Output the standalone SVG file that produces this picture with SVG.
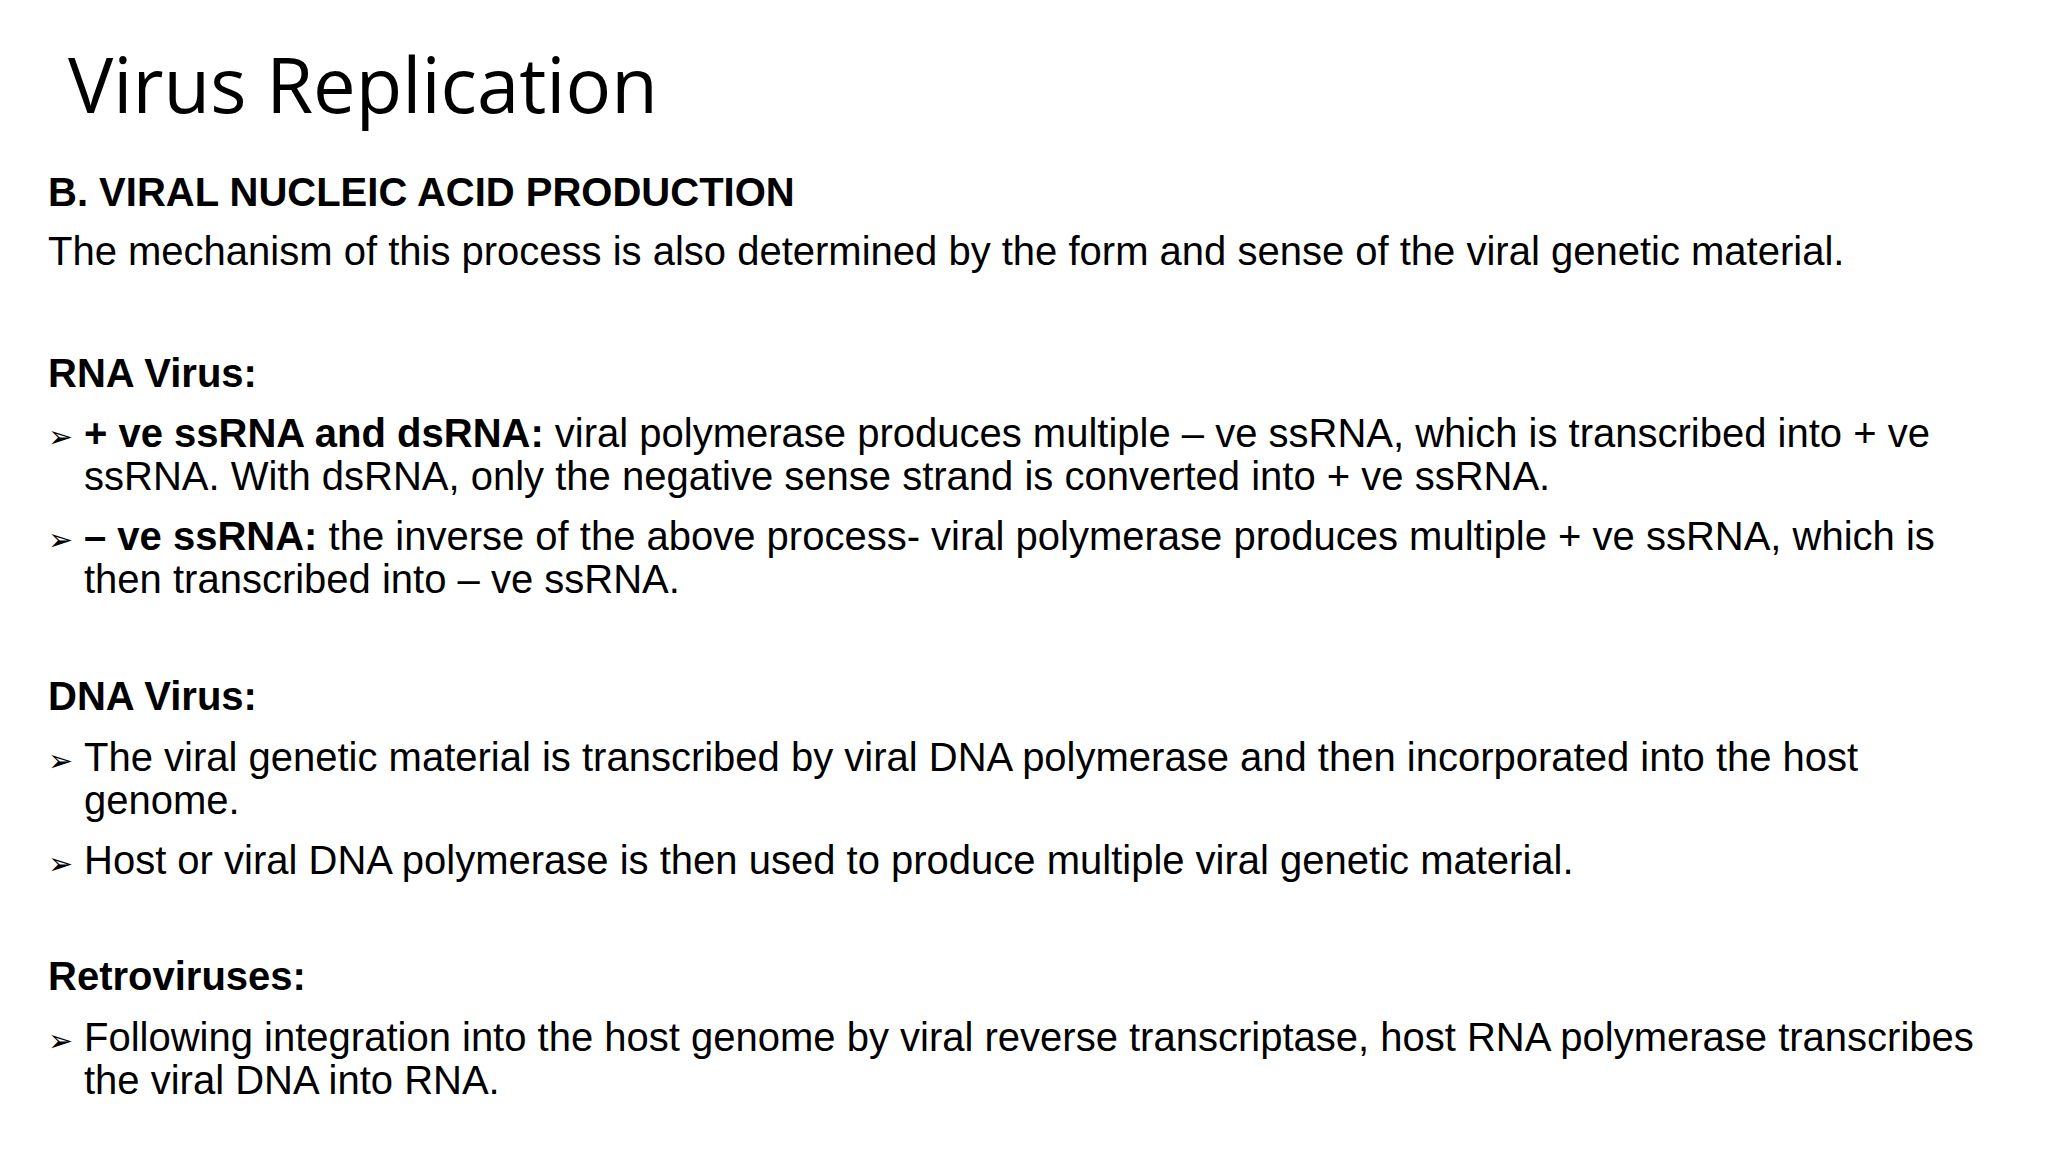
<svg xmlns="http://www.w3.org/2000/svg" width="2048" height="1152" viewBox="0 0 2048 1152">
<style>
.t{font-family:"Open Sans",sans-serif;font-size:76px;fill:#000}
.b{font-family:"Liberation Sans",Arial,sans-serif;font-size:40px;fill:#000}
.h{font-weight:bold}
.ar{font-family:"DejaVu Sans",sans-serif;font-size:30px;fill:#000}
</style>
<rect width="2048" height="1152" fill="#fff"/>
<text class="t" x="68" y="113">Virus Replication</text>
<text class="b h" x="48" y="206">B. VIRAL NUCLEIC ACID PRODUCTION</text>
<text class="b" x="48" y="265">The mechanism of this process is also determined by the form and sense of the viral genetic material.</text>
<text class="b h" x="48" y="387">RNA Virus:</text>
<text class="ar" x="48" y="447">➢</text>
<text class="b" x="84" y="447"><tspan class="h">+ ve ssRNA and dsRNA:</tspan> viral polymerase produces multiple – ve ssRNA, which is transcribed into + ve</text>
<text class="b" x="84" y="490">ssRNA. With dsRNA, only the negative sense strand is converted into + ve ssRNA.</text>
<text class="ar" x="48" y="550">➢</text>
<text class="b" x="84" y="550"><tspan class="h">– ve ssRNA:</tspan> the inverse of the above process- viral polymerase produces multiple + ve ssRNA, which is</text>
<text class="b" x="84" y="593">then transcribed into – ve ssRNA.</text>
<text class="b h" x="48" y="710">DNA Virus:</text>
<text class="ar" x="48" y="771">➢</text>
<text class="b" x="84" y="771">The viral genetic material is transcribed by viral DNA polymerase and then incorporated into the host</text>
<text class="b" x="84" y="814">genome.</text>
<text class="ar" x="48" y="874">➢</text>
<text class="b" x="84" y="874">Host or viral DNA polymerase is then used to produce multiple viral genetic material.</text>
<text class="b h" x="48" y="990">Retroviruses:</text>
<text class="ar" x="48" y="1051">➢</text>
<text class="b" x="84" y="1051">Following integration into the host genome by viral reverse transcriptase, host RNA polymerase transcribes</text>
<text class="b" x="84" y="1094">the viral DNA into RNA.</text>
</svg>
